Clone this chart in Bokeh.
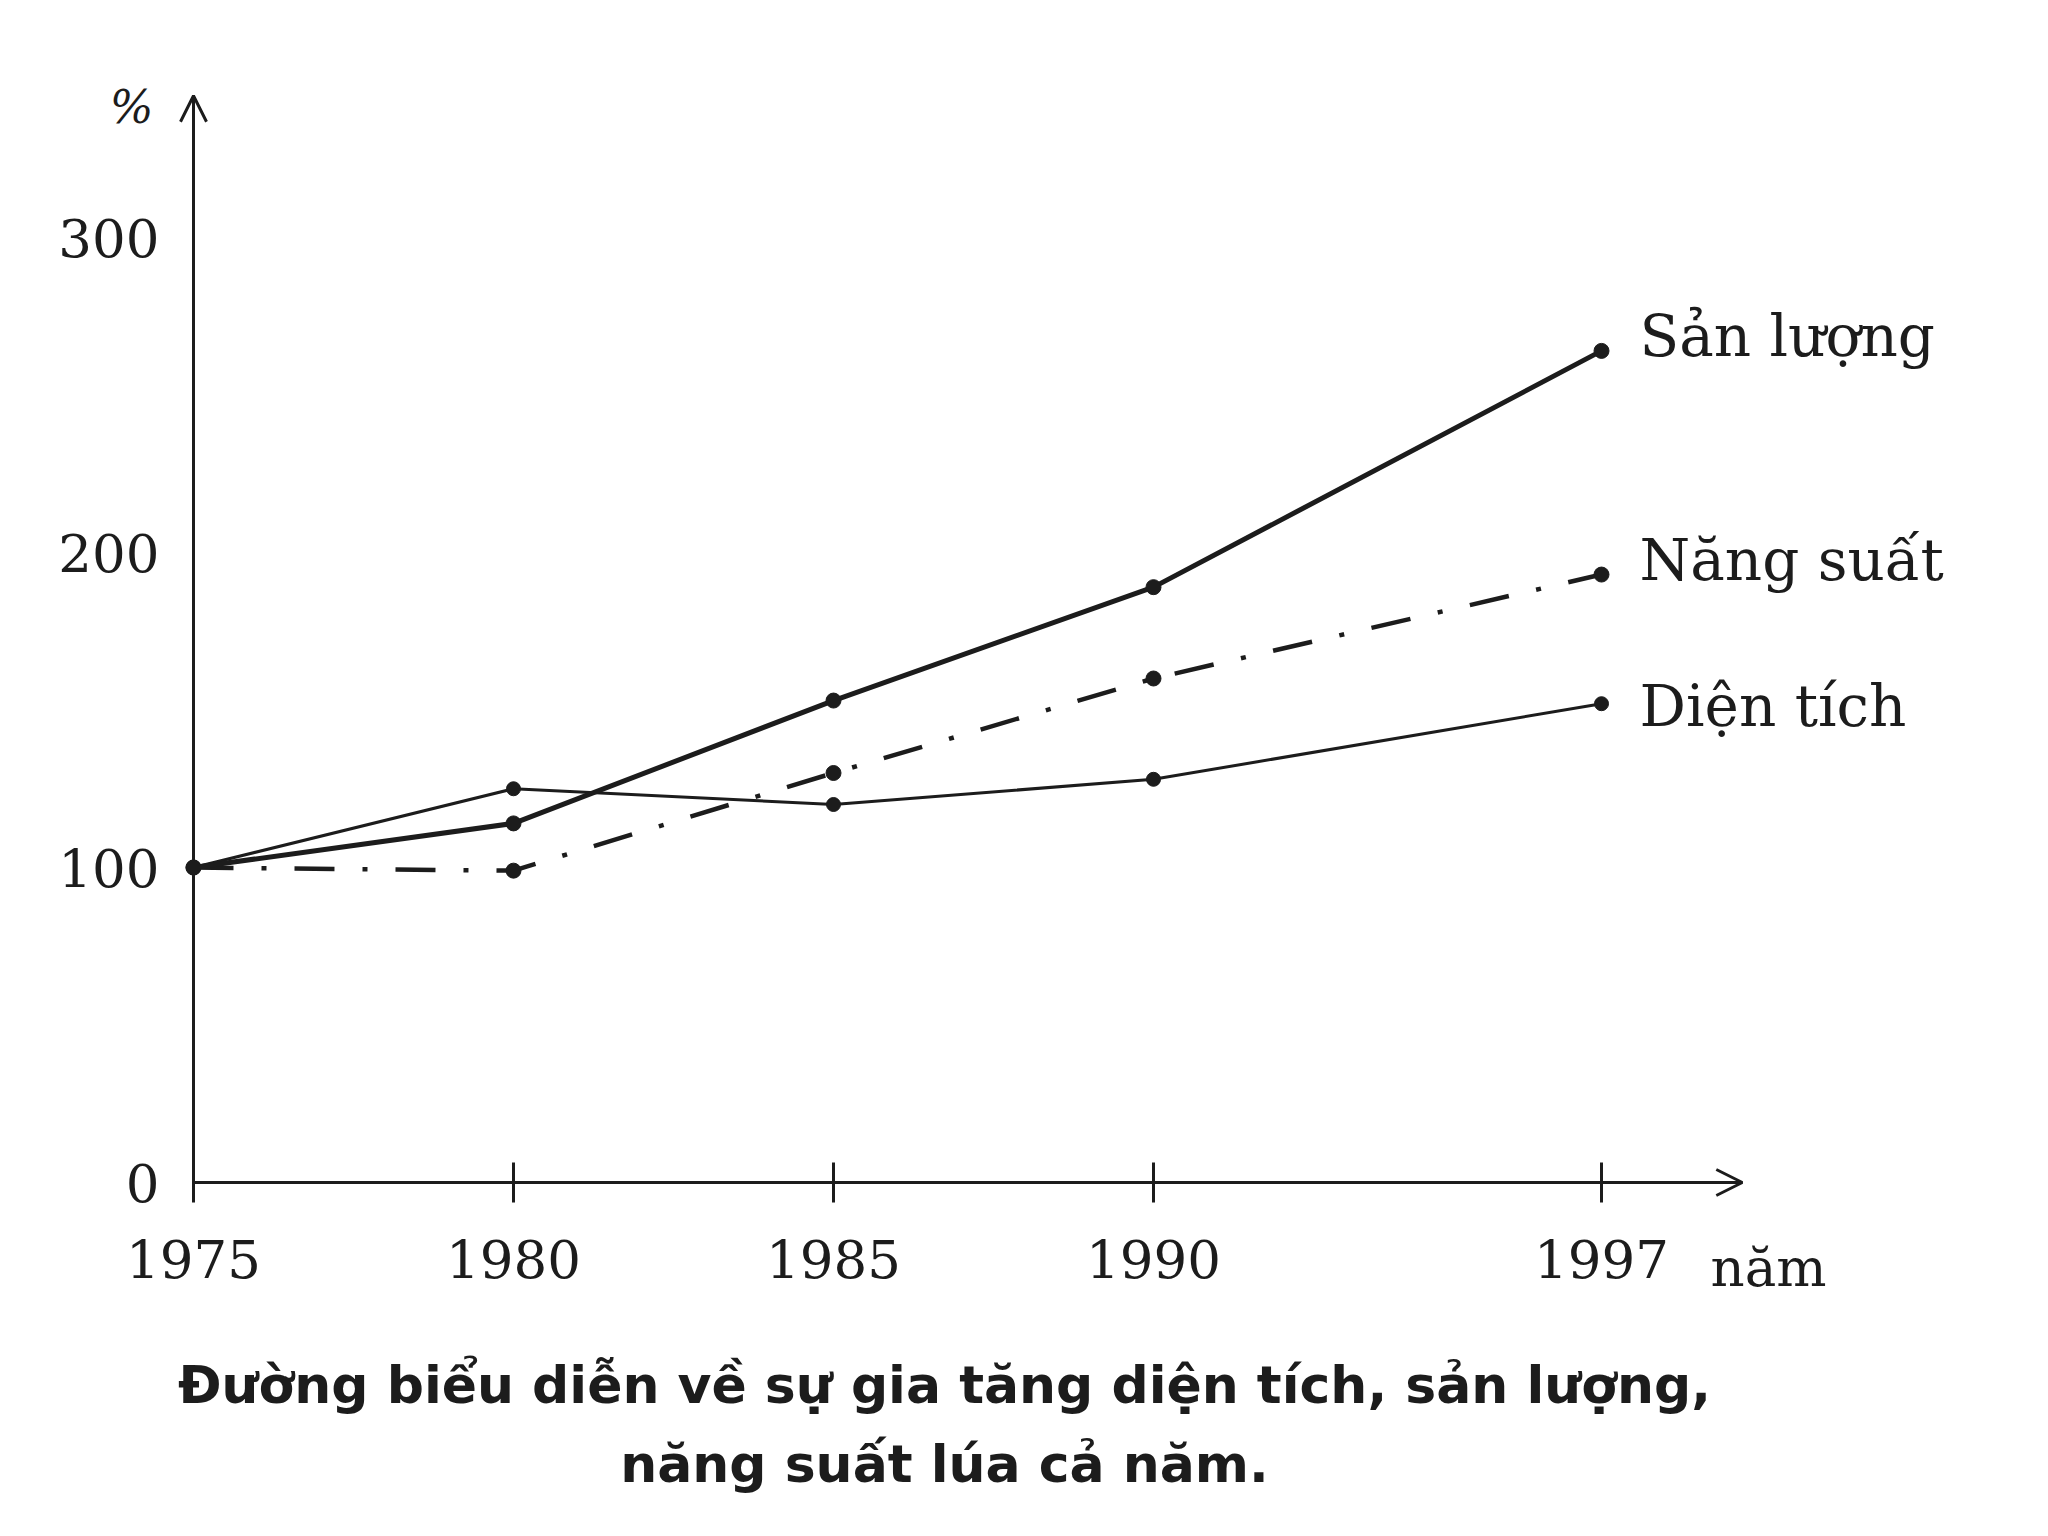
from bokeh.plotting import figure
from bokeh.models import Range1d, FixedTicker, Arrow, OpenHead, Label, ColumnDataSource
from bokeh.core.properties import value
from bokeh.embed import file_html
from bokeh.resources import INLINE

# ---- data ----
years = [1975, 1980, 1985, 1990, 1997]
san_luong = [100, 114, 153, 189, 264]
nang_suat = [100, 99, 130, 160, 193]
dien_tich = [100, 125, 120, 128, 152]
series_names = ["Sản lượng", "Năng suất", "Diện tích"]
y_ticks = [0, 100, 200, 300]
x_unit = "năm"
y_unit = "%"
caption_lines = ["Đường biểu diễn về sự gia tăng diện tích, sản lượng,",
                 "năng suất lúa cả năm."]

# ---- layout constants (pixels) ----
W, H = 2048, 1536
ORIGIN_X, ORIGIN_Y = 193, 1182   # canvas position of (1975, 0)
PX_X = 64.0                      # px per year
PX_Y = 3.15                      # px per %
INK = "#1c1c1c"
SERIF = "DejaVu Serif"

x0 = years[0] - ORIGIN_X / PX_X
y0 = -(H - ORIGIN_Y) / PX_Y

p = figure(width=W, height=H, output_backend="svg", toolbar_location=None,
           x_range=Range1d(x0, x0 + W / PX_X),
           y_range=Range1d(y0, y0 + H / PX_Y),
           min_border=0)
p.background_fill_color = "white"
p.border_fill_color = "white"
p.outline_line_color = None
p.grid.visible = False

# x axis, drawn at y = 0
xa = p.xaxis[0]
xa.fixed_location = 0
xa.ticker = FixedTicker(ticks=years)
xa.axis_line_color = None
xa.major_tick_in = 20
xa.major_tick_out = 20
xa.major_tick_line_width = 3
xa.major_tick_line_color = INK
xa.minor_tick_line_color = None
xa.major_label_text_font = SERIF
xa.major_label_text_font_size = "53px"
xa.major_label_text_color = INK
xa.major_label_standoff = 37

# y axis, drawn at x = 1975
ya = p.yaxis[0]
ya.fixed_location = years[0]
ya.ticker = FixedTicker(ticks=y_ticks)
ya.axis_line_color = None
ya.major_tick_in = 0
ya.major_tick_out = 0
ya.minor_tick_line_color = None
ya.major_label_text_font = SERIF
ya.major_label_text_font_size = "53px"
ya.major_label_text_color = INK
ya.major_label_standoff = 34

# axis arrows
p.add_layout(Arrow(end=OpenHead(size=26, line_width=3, line_color=INK),
                   x_start=years[0], y_start=0, x_end=years[0], y_end=345,
                   line_width=3, line_color=INK))
p.add_layout(Arrow(end=OpenHead(size=26, line_width=3, line_color=INK),
                   x_start=years[0], y_start=0, x_end=1999.2, y_end=0,
                   line_width=3, line_color=INK))

# series
p.line(years, dien_tich, line_width=3, line_color=INK)
p.scatter(years, dien_tich, size=14, color=INK)
p.line(years, nang_suat, line_width=4.5, line_color=INK, line_dash="40 28 5 28")
p.scatter(years, nang_suat, size=15, color=INK)
p.line(years, san_luong, line_width=5, line_color=INK)
p.scatter(years, san_luong, size=15, color=INK)

# series labels at line ends
lab_src = ColumnDataSource(dict(
    x=[years[-1]] * 3,
    y=[san_luong[-1], nang_suat[-1], dien_tich[-1]],
    text=series_names,
    dy=[-15, -15, 2],
))
p.text(x="x", y="y", text="text", source=lab_src, x_offset=38, y_offset="dy",
       text_font=value(SERIF), text_font_size="58px", text_color=INK,
       text_baseline="middle", text_align="left")

# axis unit labels
p.add_layout(Label(x=years[0], y=(ORIGIN_Y - 106) / PX_Y, x_offset=-62,
                   text=y_unit, text_font=SERIF, text_font_size="46px",
                   text_font_style="italic",
                   text_color=INK, text_align="center", text_baseline="middle"))
p.add_layout(Label(x=years[-1], y=-(1267 - ORIGIN_Y) / PX_Y, x_offset=109,
                   text=x_unit, text_font=SERIF, text_font_size="53px",
                   text_color=INK, text_align="left", text_baseline="middle"))

# caption
cap_x = years[0] + (944 - ORIGIN_X) / PX_X
for i, line in enumerate(caption_lines):
    p.add_layout(Label(x=cap_x, y=-(1384 + 79 * i - ORIGIN_Y) / PX_Y,
                       text=line, text_font="DejaVu Sans", text_font_style="bold",
                       text_font_size="52px", text_color=INK,
                       text_align="center", text_baseline="middle"))

open("out.html", "w").write(file_html(p, INLINE))
